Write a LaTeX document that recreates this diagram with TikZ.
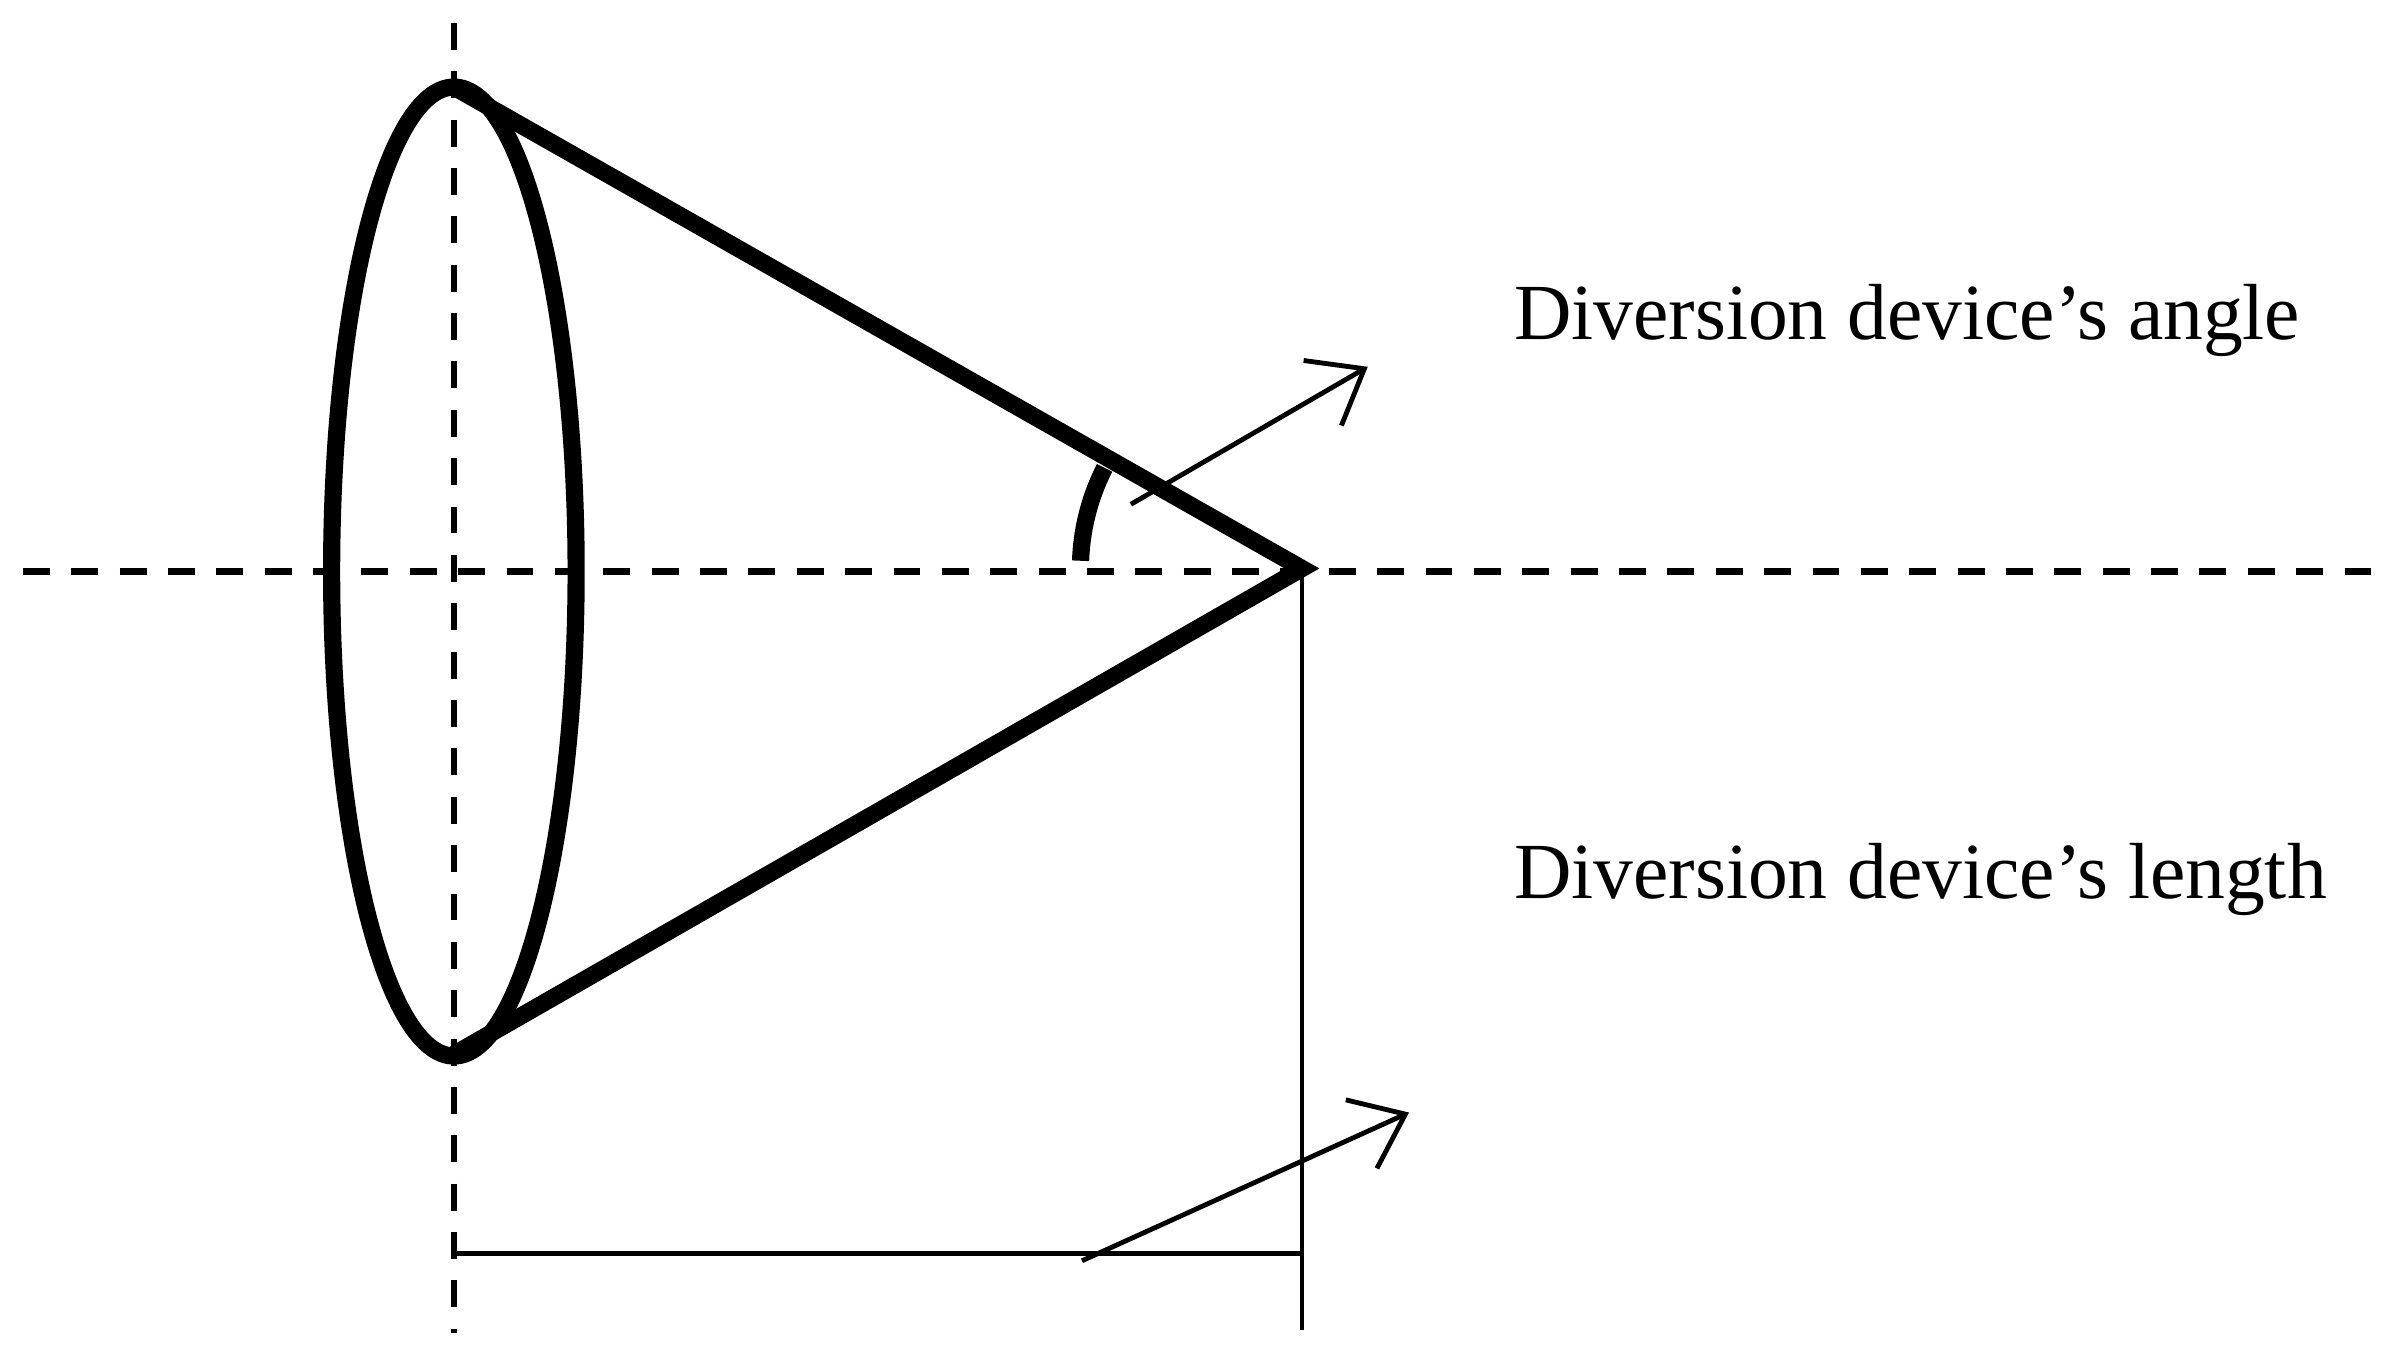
\documentclass[tikz,border=0pt]{standalone}
\usepackage{fontspec}
\setmainfont{Liberation Serif}
\usetikzlibrary{arrows.meta}
\tikzset{
  axisline/.style={draw=black,line width=1.2pt,dash pattern=on 5pt off 4pt},
  thickline/.style={draw=black,line width=3.2pt},
  thinline/.style={draw=black,line width=0.9pt},
  pointer/.style={thinline,-{Straight Barb[length=9pt,width=14pt]}},
  label/.style={anchor=base west,inner sep=0pt,font=\fontsize{14.8}{17}\selectfont}
}
\begin{document}
\begin{tikzpicture}[x=0.01cm,y=0.01cm,yscale=-1]
  \useasboundingbox (0,0) rectangle (1560,885);
  % axes
  \path[axisline] (297,15) -- (297,872);
  \path[axisline] (15,374) -- (1555,374);
  % cone
  \coordinate (top) at (297,57);
  \coordinate (bottom) at (297,690);
  \coordinate (tip) at (852,372);
  \path[thickline] (297,374) ellipse [x radius=80,y radius=317];
  \path[thickline] (top) -- (tip) -- (bottom);
  % angle mark
  \path[thickline] (tip) ++(182:145) arc[start angle=182,end angle=207,radius=145];
  % length dimension
  \coordinate (dimleft) at (297,820);
  \coordinate (dimright) at (852,820);
  \path[thinline] (dimleft) -- (dimright);
  \path[thinline] (tip) -- (852,870);
  % labels
  \node[label] (angle) at (990,222) {Diversion device’s angle};
  \node[label] (length) at (990,588) {Diversion device’s length};
  \path[pointer] (740,330) -- (895,240);
  \path[pointer] (708,825) -- (922,728);
\end{tikzpicture}
\end{document}
